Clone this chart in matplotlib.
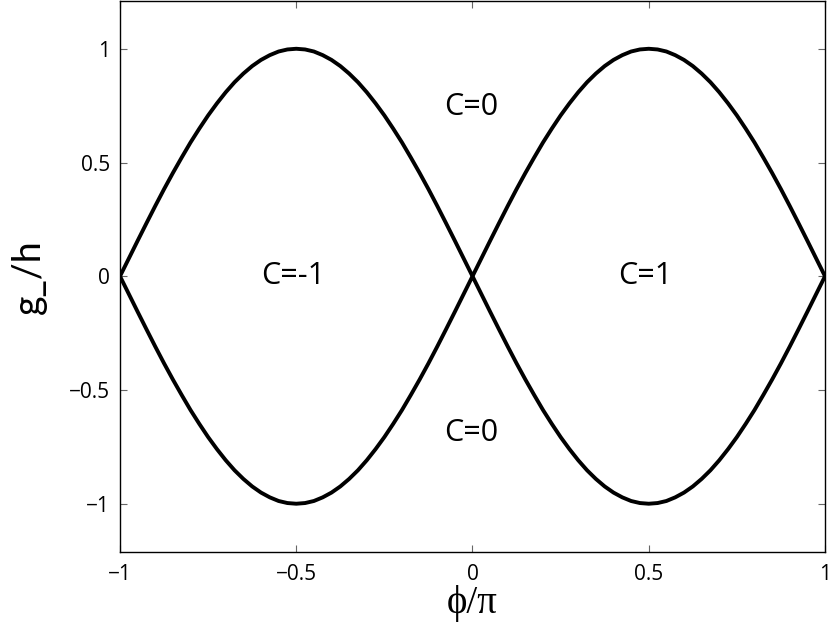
import matplotlib
matplotlib.use("Agg")
import matplotlib.pyplot as plt

plt.rcParams['font.family'] = ['Open Sans', 'DejaVu Sans']

# phi/pi sample positions
phi = [-1.000, -0.975, -0.950, -0.925, -0.900, -0.875, -0.850, -0.825, -0.800, -0.775,
       -0.750, -0.725, -0.700, -0.675, -0.650, -0.625, -0.600, -0.575, -0.550, -0.525,
       -0.500, -0.475, -0.450, -0.425, -0.400, -0.375, -0.350, -0.325, -0.300, -0.275,
       -0.250, -0.225, -0.200, -0.175, -0.150, -0.125, -0.100, -0.075, -0.050, -0.025,
       0.000, 0.025, 0.050, 0.075, 0.100, 0.125, 0.150, 0.175, 0.200, 0.225,
       0.250, 0.275, 0.300, 0.325, 0.350, 0.375, 0.400, 0.425, 0.450, 0.475,
       0.500, 0.525, 0.550, 0.575, 0.600, 0.625, 0.650, 0.675, 0.700, 0.725,
       0.750, 0.775, 0.800, 0.825, 0.850, 0.875, 0.900, 0.925, 0.950, 0.975, 1.000]

# upper boundary g_/h
upper = [0.000, 0.078, 0.156, 0.233, 0.309, 0.383, 0.454, 0.522, 0.588, 0.649,
         0.707, 0.760, 0.809, 0.853, 0.891, 0.924, 0.951, 0.972, 0.988, 0.997,
         1.000, 0.997, 0.988, 0.972, 0.951, 0.924, 0.891, 0.853, 0.809, 0.760,
         0.707, 0.649, 0.588, 0.522, 0.454, 0.383, 0.309, 0.233, 0.156, 0.078,
         0.000, 0.078, 0.156, 0.233, 0.309, 0.383, 0.454, 0.522, 0.588, 0.649,
         0.707, 0.760, 0.809, 0.853, 0.891, 0.924, 0.951, 0.972, 0.988, 0.997,
         1.000, 0.997, 0.988, 0.972, 0.951, 0.924, 0.891, 0.853, 0.809, 0.760,
         0.707, 0.649, 0.588, 0.522, 0.454, 0.383, 0.309, 0.233, 0.156, 0.078, 0.000]

# lower boundary g_/h
lower = [-0.000, -0.078, -0.156, -0.233, -0.309, -0.383, -0.454, -0.522, -0.588, -0.649,
         -0.707, -0.760, -0.809, -0.853, -0.891, -0.924, -0.951, -0.972, -0.988, -0.997,
         -1.000, -0.997, -0.988, -0.972, -0.951, -0.924, -0.891, -0.853, -0.809, -0.760,
         -0.707, -0.649, -0.588, -0.522, -0.454, -0.383, -0.309, -0.233, -0.156, -0.078,
         -0.000, -0.078, -0.156, -0.233, -0.309, -0.383, -0.454, -0.522, -0.588, -0.649,
         -0.707, -0.760, -0.809, -0.853, -0.891, -0.924, -0.951, -0.972, -0.988, -0.997,
         -1.000, -0.997, -0.988, -0.972, -0.951, -0.924, -0.891, -0.853, -0.809, -0.760,
         -0.707, -0.649, -0.588, -0.522, -0.454, -0.383, -0.309, -0.233, -0.156, -0.078, -0.000]

# region labels (Chern number)
labels = ['C=-1', 'C=1', 'C=0', 'C=0']
label_x = [-0.51, 0.49, -0.005, -0.005]
label_y = [0.0, 0.0, 0.745, -0.69]

xticks = [-1, -0.5, 0, 0.5, 1]
xticklabels = ['\u22121', '\u22120.5', '0', '0.5', '1']
yticks = [-1, -0.5, 0, 0.5, 1]
yticklabels = ['\u22121', '\u22120.5', '0', '0.5', '1']

fig = plt.figure(figsize=(8.31, 6.26), dpi=100)
ax = fig.add_axes([120/831, 74.5/626, 705/831, 550.5/626])

ax.plot(phi, upper, color='black', lw=2.8, solid_joinstyle='round')
ax.plot(phi, lower, color='black', lw=2.8, solid_joinstyle='round')

for t, x, y in zip(labels, label_x, label_y):
    ax.text(x, y, t, fontsize=22, ha='center', va='center')

ax.set_xlim(-1, 1)
ax.set_ylim(-1.21, 1.21)
ax.set_xticks(xticks)
ax.set_xticklabels(xticklabels)
ax.set_yticks(yticks)
ax.set_yticklabels(yticklabels)
ax.tick_params(direction='in', length=5, width=0.8, color='#666666',
               top=True, right=True, labelsize=15)
ax.tick_params(axis='y', pad=7)
ax.tick_params(axis='x', pad=9)
for s in ax.spines.values():
    s.set_linewidth(1.0)

ax.set_xlabel('\u03d5/\u03c0', fontsize=28, family=['Liberation Serif', 'DejaVu Serif'],
              labelpad=0)
ax.set_ylabel('g_/h', fontsize=27, family=['Lato', 'DejaVu Sans'], labelpad=16)

fig.savefig('out.png', dpi=100)
